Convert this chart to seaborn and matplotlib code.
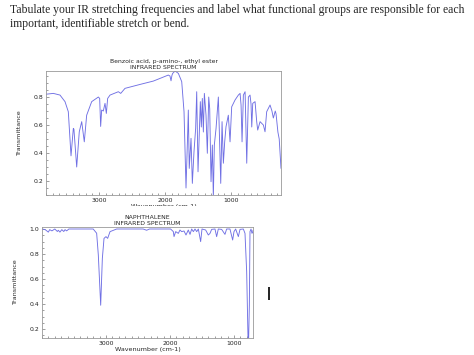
import seaborn as sns
import numpy as np
import matplotlib.pyplot as plt
from matplotlib.patches import Rectangle
from matplotlib.lines import Line2D
from matplotlib.ticker import MultipleLocator

# data
benzo_wn = [3803, 3692, 3591, 3515, 3465, 3424, 3389, 3380, 3338, 3299, 3262, 3223,
            3187, 3111, 3010, 2990, 2975, 2960, 2935, 2909, 2889, 2869, 2833, 2707,
            2671, 2606, 2379, 2177, 2050, 1950, 1925, 1909, 1895, 1884, 1848, 1798,
            1747, 1712, 1682, 1656, 1647, 1633, 1606, 1586, 1561, 1536, 1520, 1500,
            1480, 1465, 1450, 1435, 1419, 1404, 1379, 1359, 1338, 1323, 1303, 1283,
            1268, 1253, 1227, 1192, 1177, 1156, 1136, 1116, 1096, 1076, 1041, 1015,
            990, 939, 889, 863, 848, 833, 813, 787, 762, 737, 712, 697, 686, 671,
            636, 611, 596, 560, 510, 485, 460, 409, 380, 359, 330, 318, 290, 270, 243]
benzo_t = [0.82, 0.826, 0.814, 0.767, 0.695, 0.38, 0.576, 0.57, 0.30, 0.552, 0.624, 0.48,
           0.67, 0.767, 0.80, 0.79, 0.59, 0.707, 0.70, 0.755, 0.683, 0.79, 0.814, 0.838,
           0.826, 0.862, 0.89, 0.914, 0.938, 0.957, 0.95, 0.916, 0.955, 0.969, 0.986, 0.969,
           0.91, 0.695, 0.15, 0.552, 0.707, 0.29, 0.505, 0.183, 0.41, 0.576, 0.838, 0.266,
           0.552, 0.767, 0.586, 0.79, 0.55, 0.826, 0.67, 0.398, 0.80, 0.717, 0.195, 0.457,
           0.08, 0.457, 0.576, 0.80, 0.552, 0.183, 0.624, 0.327, 0.48, 0.588, 0.67, 0.48,
           0.73, 0.779, 0.814, 0.826, 0.743, 0.48, 0.814, 0.838, 0.327, 0.80, 0.814, 0.75, 0.586, 0.755,
           0.767, 0.624, 0.564, 0.624, 0.60, 0.552, 0.695, 0.743, 0.70, 0.65, 0.70, 0.68, 0.55, 0.5, 0.29]

naph_wn = [4000, 3950, 3901, 3880, 3845, 3800, 3760, 3745, 3720, 3690, 3660, 3640,
           3615, 3580, 3200, 3146, 3120, 3083, 3057, 3031, 3000, 2974, 2937, 2833,
           2420, 2365, 2320, 1990, 1948, 1937, 1911, 1870, 1844, 1818, 1781, 1750,
           1714, 1687, 1661, 1635, 1609, 1583, 1557, 1521, 1500, 1443, 1401, 1375,
           1349, 1297, 1271, 1245, 1193, 1141, 1115, 1063, 1021, 1000, 974, 932,
           906, 854, 828, 802, 776, 760, 750, 734, 719, 708, 703]
naph_t = [1.0, 0.995, 0.975, 0.995, 0.985, 1.0, 0.98, 0.99, 0.975, 0.995, 0.98, 0.995,
          0.985, 1.0, 1.0, 0.966, 0.792, 0.39, 0.765, 0.925, 0.939, 0.925, 0.979, 1.0,
          1.0, 0.99, 1.0, 1.0, 0.979, 0.939, 0.979, 0.965, 0.992, 0.979, 0.984, 0.952,
          0.992, 0.957, 1.0, 0.979, 1.0, 0.979, 1.0, 0.899, 1.0, 0.992, 0.952, 0.965,
          0.997, 1.0, 0.939, 1.0, 0.997, 0.957, 1.0, 1.0, 0.912, 0.979, 1.0, 0.939,
          0.997, 1.0, 0.965, 0.659, 0.0, 0.392, 0.979, 1.0, 0.965, 0.975, 0.99]

y_ticks = [0.2, 0.4, 0.6, 0.8]
x_ticks = [3000, 2000, 1000]

sns.set_style('ticks')
plt.rcParams['font.family'] = ['DejaVu Sans']
line_col = '#7070e4'

fig = plt.figure(figsize=(4.74, 3.55), dpi=100)

# question text
fig.text(0.021, 1 - 13.5 / 355, 'Tabulate your IR stretching frequencies and label what functional groups are responsible for each',
         family='Liberation Serif', fontsize=8.35, va='baseline')
fig.text(0.021, 1 - 27 / 355, 'important, identifiable stretch or bend.',
         family='Liberation Serif', fontsize=8.35, va='baseline')

ax1 = fig.add_axes([46 / 474, 1 - 195 / 355, 235 / 474, 124 / 355])
ax2 = fig.add_axes([42 / 474, 1 - 338 / 355, 211 / 474, 111 / 355])

sns.lineplot(x=benzo_wn, y=benzo_t, ax=ax1, color=line_col, linewidth=0.65, estimator=None)
sns.lineplot(x=naph_wn, y=naph_t, ax=ax2, color=line_col, linewidth=0.65, estimator=None)

ax1.set_xlim(3803, 243)
ax1.set_ylim(0.1, 0.986)
ax2.set_xlim(4000, 703)
ax2.set_ylim(0.128, 1.016)

ax1.set_title('Benzoic acid, p-amino-, ethyl ester\nINFRARED SPECTRUM', fontsize=4.4, pad=1.5, linespacing=1.3)
ax2.set_title('NAPHTHALENE\nINFRARED SPECTRUM', fontsize=4.4, pad=1.5, linespacing=1.3)

for ax, yt in [(ax1, y_ticks), (ax2, y_ticks + [1])]:
    ax.set_xticks(x_ticks)
    ax.set_yticks(yt)
    ax.xaxis.set_minor_locator(MultipleLocator(100))
    ax.yaxis.set_minor_locator(MultipleLocator(0.05))
    ax.tick_params(which='both', direction='in', labelsize=4.4, pad=2, colors='#555555',
                   labelcolor='#222222', width=0.4)
    ax.tick_params(which='major', length=2.5)
    ax.tick_params(which='minor', length=1.2)
    ax.set_xlabel('Wavenumber (cm-1)', fontsize=4.6, labelpad=1)
    ax.set_ylabel('Transmittance', fontsize=4.6, labelpad=8)
    for s in ax.spines.values():
        s.set_color('#999999')
        s.set_linewidth(0.6)

ax2.set_zorder(2)
ax2.set_facecolor('white')
# the second screenshot overlaps the bottom of the first
fig.add_artist(Rectangle((0, 0), 0.6, 1 - 206 / 355, transform=fig.transFigure,
                         facecolor='white', edgecolor='none', zorder=1))
# text cursor
fig.add_artist(Line2D([268.5 / 474] * 2, [1 - 287 / 355, 1 - 300 / 355],
                      transform=fig.transFigure, color='#222222', linewidth=1.4,
                      solid_capstyle='butt', zorder=3))

plt.savefig('out.png', dpi=100)
